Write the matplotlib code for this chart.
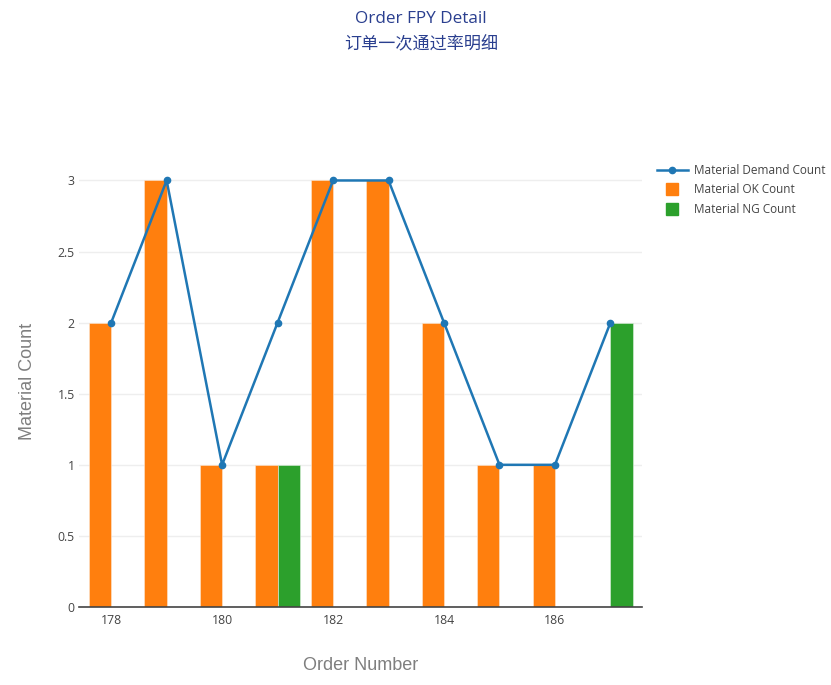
import matplotlib
matplotlib.use("Agg")
import matplotlib.pyplot as plt
from matplotlib.lines import Line2D

orders = [178, 179, 180, 181, 182, 183, 184, 185, 186, 187]
demand = [2, 3, 1, 2, 3, 3, 2, 1, 1, 2]
ok_count = [2, 3, 1, 1, 3, 3, 2, 1, 1, 0]
ng_count = [0, 0, 0, 1, 0, 0, 0, 0, 0, 2]
x_ticks = [178, 180, 182, 184, 186]
y_ticks = [0, 0.5, 1, 1.5, 2, 2.5, 3]
y_tick_labels = ["0", "0.5", "1", "1.5", "2", "2.5", "3"]

W, H = 831, 685
fig = plt.figure(figsize=(W / 100, H / 100), dpi=100)
L, R, T, B = 79, 641.5, 158, 607
ax = fig.add_axes([L / W, 1 - B / H, (R - L) / W, (B - T) / H])

tick_font = ["Open Sans", "DejaVu Sans"]
blue = "#1f77b4"
orange = "#ff7f0e"
green = "#2ca02c"

w = 0.4
ax.bar([o - w / 2 for o in orders], ok_count, width=w, color=orange,
       edgecolor="#fde8d4", linewidth=0.4, zorder=2)
ax.bar([o + w / 2 for o in orders], ng_count, width=w, color=green,
       edgecolor="#e0f0e0", linewidth=0.4, zorder=2)
ax.plot(orders, demand, color=blue, lw=1.8, marker="o", ms=4.5, zorder=3)

ax.set_xlim(177.42, 187.56)
ax.set_ylim(0, 3.158)
ax.set_xticks(x_ticks)
ax.set_xticklabels([str(t) for t in x_ticks], fontsize=8.8, color="#444444", family=tick_font)
ax.set_yticks(y_ticks)
ax.set_yticklabels(y_tick_labels, fontsize=8.8, color="#444444", family=tick_font)
ax.tick_params(axis="both", length=0)
ax.tick_params(axis="x", pad=5)
ax.tick_params(axis="y", pad=3)
ax.grid(axis="y", color="#eeeeee", lw=1, zorder=0)
ax.set_axisbelow(True)
for s in ["top", "right", "left"]:
    ax.spines[s].set_visible(False)
ax.spines["bottom"].set_color("#444444")
ax.spines["bottom"].set_linewidth(1.2)

fig.text((L + R) / 2 / W, 1 - 665 / H, "Order Number", ha="center", va="center",
         fontsize=13, color="#7f7f7f", family="Liberation Sans")
fig.text(28 / W, 1 - 381 / H, "Material Count", ha="center", va="center", rotation=90,
         fontsize=13, color="#7f7f7f", family="Liberation Sans")

title_font = ["Open Sans", "Noto Sans CJK SC", "DejaVu Sans"]
fig.text(421 / W, 1 - 19 / H, "Order FPY Detail", ha="center", va="center",
         fontsize=12.3, color="#2a3f8f", family=title_font)
fig.text(421 / W, 1 - 44 / H, "订单一次通过率明细", ha="center", va="center",
         fontsize=12.3, color="#2a3f8f", family=["Noto Sans CJK SC", "DejaVu Sans"])

handles = [
    Line2D([0], [0], color=blue, lw=1.8, marker="o", ms=4.5),
    Line2D([0], [0], color=orange, lw=0, marker="s", ms=9),
    Line2D([0], [0], color=green, lw=0, marker="s", ms=9),
]
labels = ["Material Demand Count", "Material OK Count", "Material NG Count"]
leg = fig.legend(handles, labels, loc="upper left", bbox_to_anchor=(657 / W, 1 - 164 / H),
                 frameon=False, prop={"family": tick_font, "size": 8.5},
                 handlelength=2.6, handletextpad=0.55, labelspacing=0.55, borderaxespad=0,
                 borderpad=0)
for t in leg.get_texts():
    t.set_color("#444444")

fig.savefig("out.png", dpi=100)
